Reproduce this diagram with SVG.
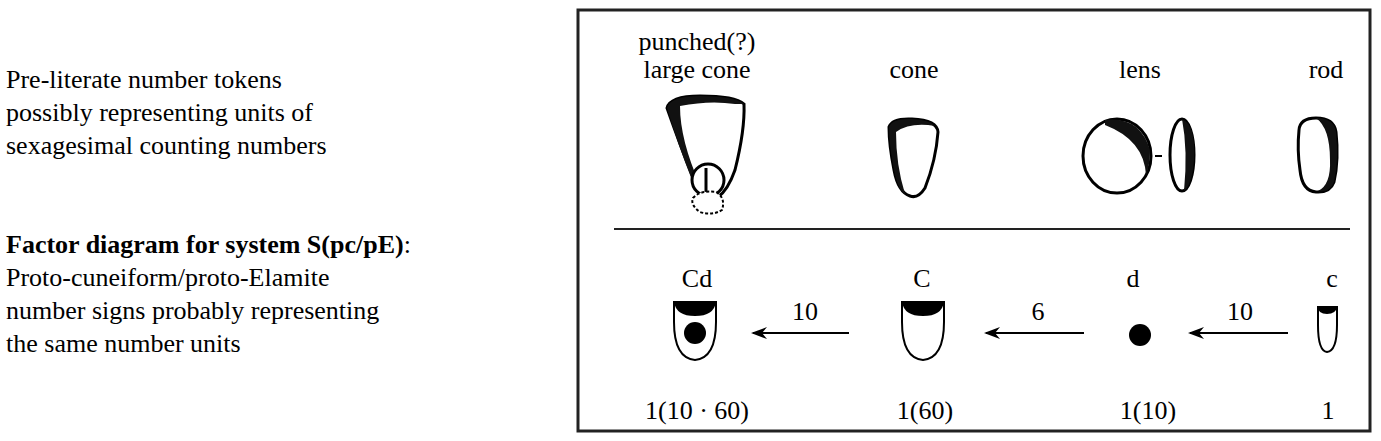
<svg xmlns="http://www.w3.org/2000/svg" width="1381" height="441" viewBox="0 0 1381 441">
<style>
text{font-family:'Liberation Serif','Times New Roman','DejaVu Serif Condensed','DejaVu Serif',serif;font-size:26px;fill:#000}
.c{text-anchor:middle}
.ln{stroke:#000;stroke-width:2;fill:none}
.sg{stroke:#000;stroke-width:2;fill:#fff}
.tk{stroke:#000;stroke-width:3;fill:#fff}
</style>
<defs>
<marker id="ah" markerWidth="16" markerHeight="12" refX="14" refY="6" orient="auto" markerUnits="userSpaceOnUse">
<path d="M0,0 L16,6 L0,12 L5,6 Z" fill="#000"/>
</marker>
</defs>
<rect width="1381" height="441" fill="#fff"/>
<g id="left-text">
<text x="6" y="88">Pre-literate number tokens</text>
<text x="6" y="121">possibly representing units of</text>
<text x="6" y="154">sexagesimal counting numbers</text>
<text x="6" y="253"><tspan font-weight="bold">Factor diagram for system S(pc/pE)</tspan>:</text>
<text x="6" y="286">Proto-cuneiform/proto-Elamite</text>
<text x="6" y="319">number signs probably representing</text>
<text x="6" y="352">the same number units</text>
</g>
<rect x="578" y="10" width="792" height="421" fill="none" stroke="#222" stroke-width="3"/>
<line x1="614" y1="229" x2="1350" y2="229" stroke="#222" stroke-width="2"/>
<g id="token-large-cone">
<text class="c" x="697" y="50">punched(?)</text>
<text class="c" x="697" y="78">large cone</text>
<path class="tk" d="M667,108 Q670,96 700,96 Q735,96 744,104 Q745,130 735,170 Q728,190 718,197 L708,195 Q700,190 692,175 Q680,145 667,108 Z"/>
<path d="M667,108 Q670,96 700,96 Q735,96 744,104 L735,104 Q710,100 680,106 Q680,140 700,185 L692,180 Q678,145 667,108 Z" fill="#111"/>
<ellipse class="tk" cx="708" cy="180" rx="16" ry="16"/>
<line x1="706" y1="168" x2="706" y2="192" stroke="#000" stroke-width="3"/>
<path d="M693,198 Q700,190 716,192 Q726,198 722,210 Q712,216 700,212 Q690,205 693,198 Z" fill="#fff" stroke="#000" stroke-width="2" stroke-dasharray="3,2"/>
</g>
<g id="token-cone">
<text class="c" x="914" y="78">cone</text>
<path class="tk" d="M889,127 Q892,118 912,119 Q937,120 938,132 Q936,160 925,188 Q918,199 910,196 Q898,192 894,170 Q889,145 889,127 Z"/>
<path d="M889,127 Q892,118 912,119 Q930,120 935,126 Q910,122 896,132 Q896,165 905,194 Q898,190 894,170 Q889,145 889,127 Z" fill="#111"/>
</g>
<g id="token-lens">
<text class="c" x="1140" y="78">lens</text>
<ellipse class="tk" cx="1117" cy="156" rx="34" ry="37"/>
<path d="M1105,120 Q1140,116 1150,150 Q1150,165 1146,175 Q1144,140 1105,125 Z" fill="#111"/>
<line x1="1155" y1="156" x2="1162" y2="156" stroke="#000" stroke-width="2"/>
<ellipse class="tk" cx="1182" cy="155" rx="12" ry="36"/>
<path d="M1182,119 Q1196,125 1194,160 Q1192,185 1184,191 Q1188,150 1182,119 Z" fill="#111"/>
</g>
<g id="token-rod">
<text class="c" x="1326" y="78">rod</text>
<path class="tk" d="M1299,130 Q1300,118 1316,118 Q1334,118 1336,132 Q1339,160 1334,182 Q1330,193 1316,192 Q1302,191 1300,170 Q1297,150 1299,130 Z"/>
<path d="M1316,118 Q1334,118 1336,132 Q1339,160 1334,182 Q1330,193 1318,191 Q1331,185 1330,160 Q1330,128 1316,118 Z" fill="#111"/>
</g>
<g id="sign-Cd">
<text class="c" x="697" y="287">Cd</text>
<path class="sg" d="M674,302 L716,302 L716,322 Q716,358 695,360 Q674,358 674,322 Z"/>
<path d="M674,302 L716,302 Q714,316 695,316 Q676,316 674,302 Z" fill="#000"/>
<circle cx="695" cy="333" r="11" fill="#000"/>
<text class="c" x="697" y="419">1(10 · 60)</text>
</g>
<g id="sign-C">
<text class="c" x="922" y="287">C</text>
<path class="sg" d="M902,302 L944,302 L944,322 Q944,358 923,360 Q902,358 902,322 Z"/>
<path d="M902,302 L944,302 Q942,316 923,316 Q904,316 902,302 Z" fill="#000"/>
<text class="c" x="925" y="419">1(60)</text>
</g>
<g id="sign-d">
<text class="c" x="1133" y="287">d</text>
<circle cx="1140" cy="335" r="11" fill="#000"/>
<text class="c" x="1148" y="419">1(10)</text>
</g>
<g id="sign-c">
<text class="c" x="1332" y="287">c</text>
<path class="sg" d="M1318,307 L1337,307 L1337,325 Q1337,351 1327,352 Q1318,351 1318,325 Z"/>
<path d="M1318,307 L1337,307 Q1336,314 1327,314 Q1318,314 1318,307 Z" fill="#000"/>
<text class="c" x="1328" y="419">1</text>
</g>
<g id="connectors">
<line class="ln" x1="849" y1="333" x2="753" y2="333" marker-end="url(#ah)"/>
<line class="ln" x1="1084" y1="333" x2="986" y2="333" marker-end="url(#ah)"/>
<line class="ln" x1="1288" y1="333" x2="1190" y2="333" marker-end="url(#ah)"/>
<text class="c" x="805" y="320">10</text>
<text class="c" x="1038" y="320">6</text>
<text class="c" x="1240" y="320">10</text>
</g>
</svg>
